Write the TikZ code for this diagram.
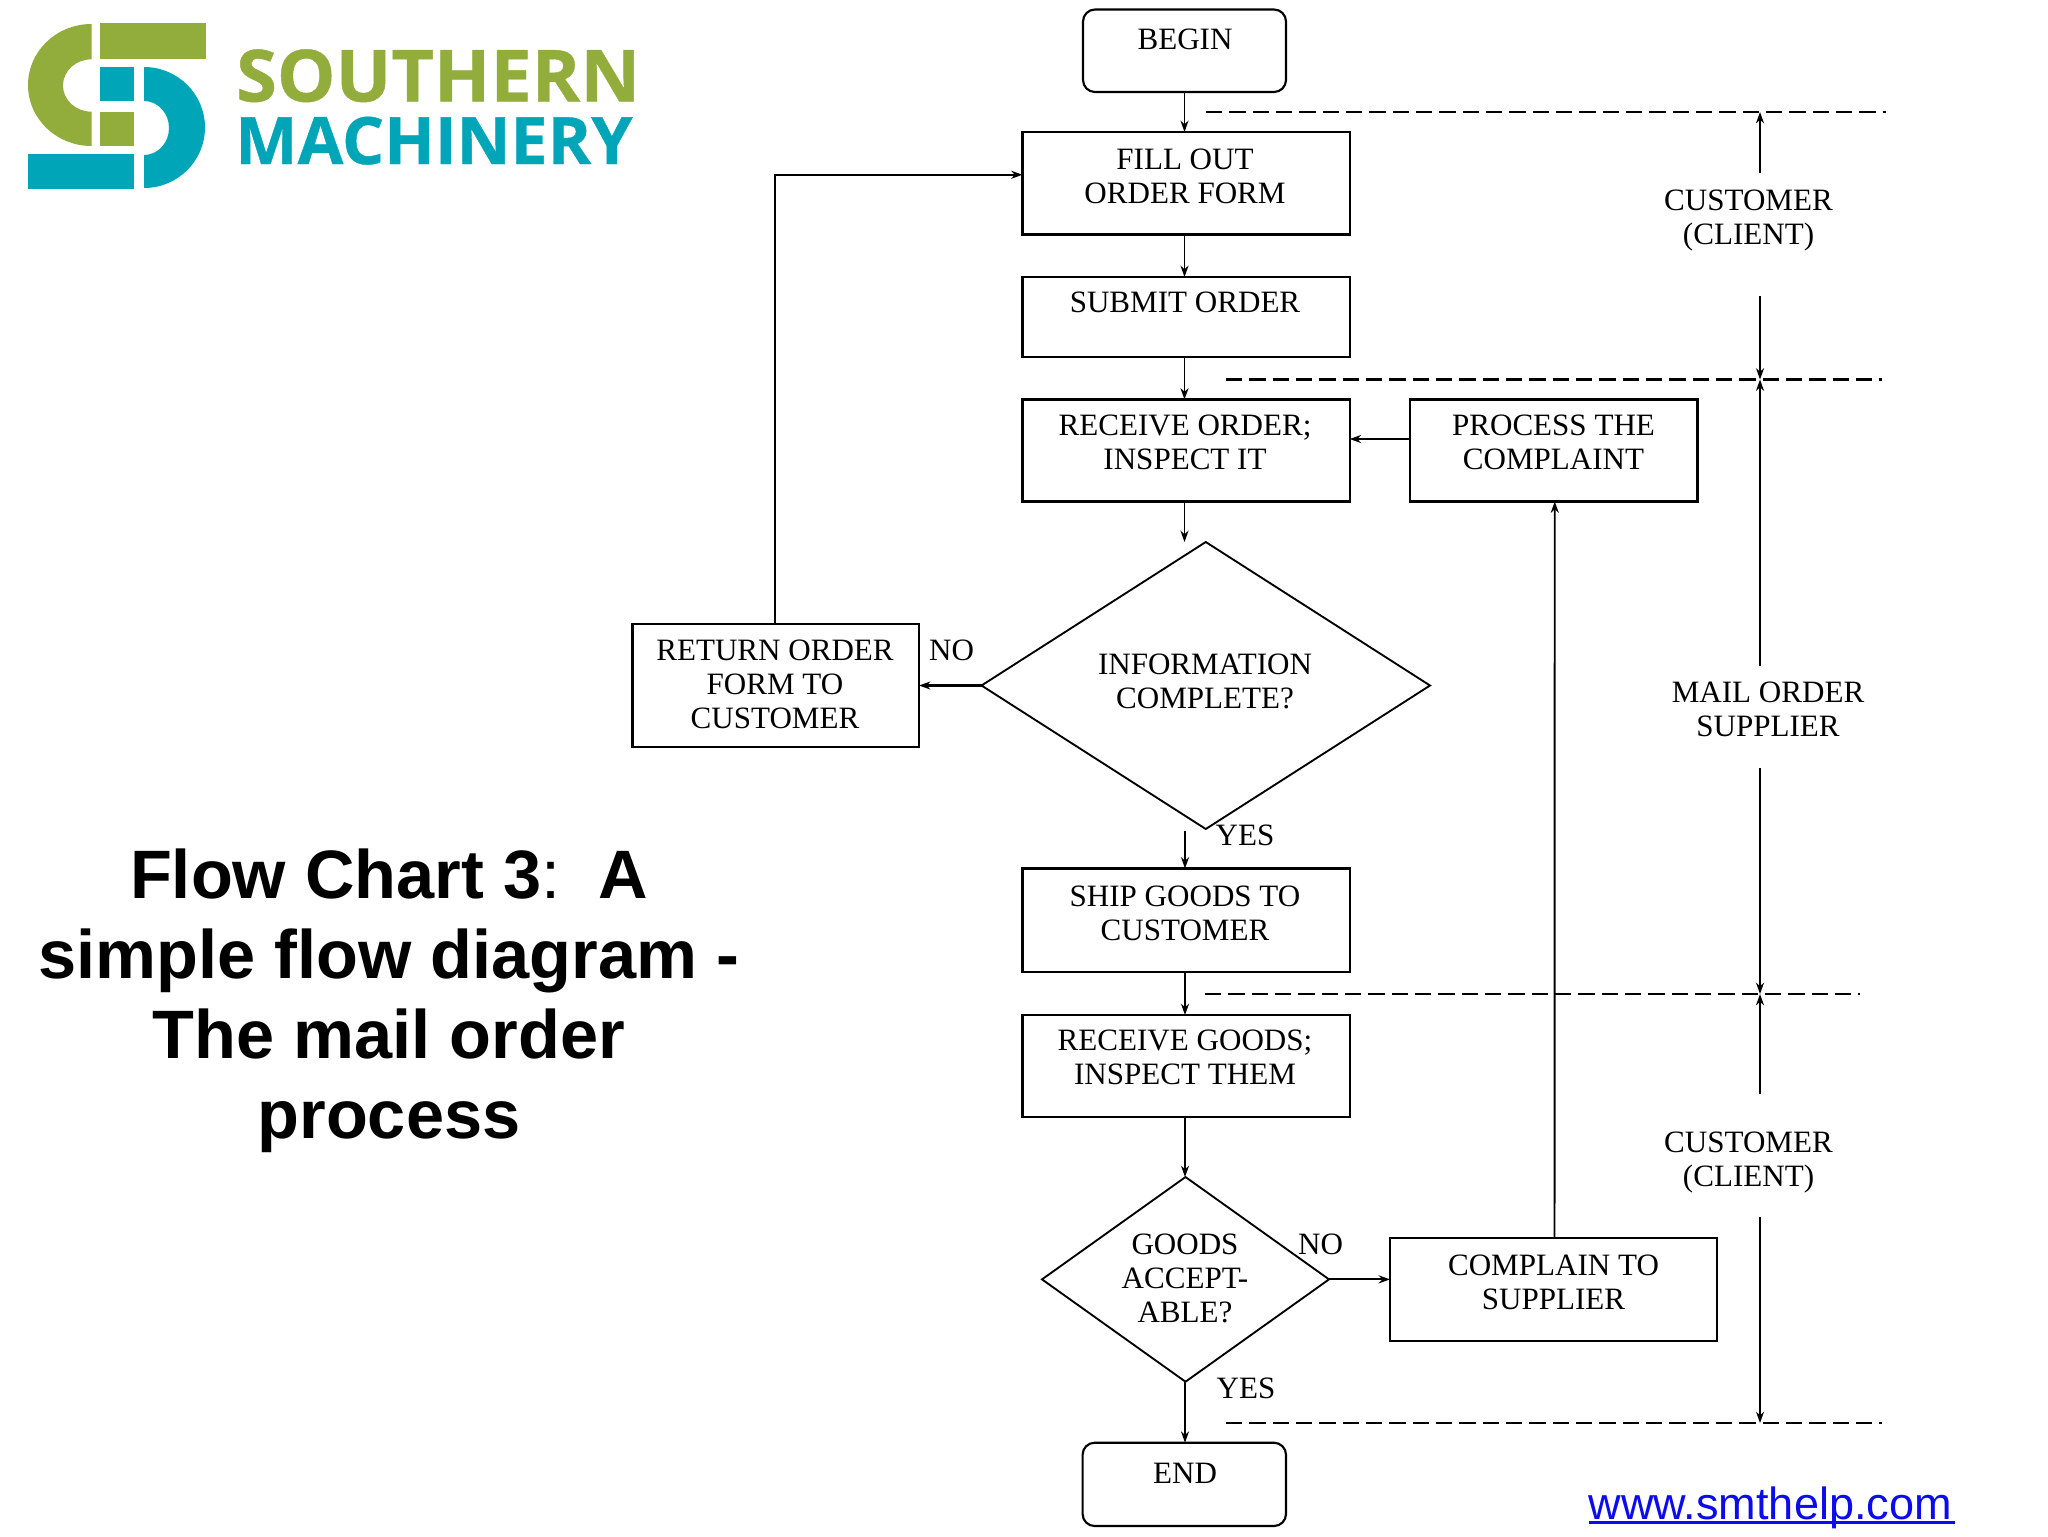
\documentclass[tikz,border=0pt]{standalone}
\usepackage{fontspec}
\usepackage{graphicx}
\usetikzlibrary{arrows.meta,shapes.geometric,calc}
\setmainfont{Liberation Serif}
\newfontfamily\arialf{Liberation Sans}
\newfontfamily\logof{Open Sans}[UprightFont=* Bold,FakeBold=0.6]
\definecolor{lgreen}{HTML}{93AD3C}
\definecolor{lteal}{HTML}{00A5B8}
\definecolor{urlblue}{HTML}{0B0BEE}
\newcommand{\bx}[6][]{% style, name, x0,y0,x1,y1
  \pgfmathsetmacro{\bw}{(#5-#3)*0.75}\pgfmathsetmacro{\bh}{(#6-#4)*0.75}
  \pgfmathsetmacro{\bcx}{(#3+#5)/2}\pgfmathsetmacro{\bcy}{(#4+#6)/2}
  \node[#1,minimum width=\bw pt,minimum height=\bh pt] (#2) at (\bcx,\bcy) {};}
\tikzset{
  box/.style={draw=black,line width=1.6pt,rectangle,inner sep=0pt,outer sep=0pt},
  term/.style={box,rounded corners=9pt},
  dec/.style={draw=black,line width=1.4pt,diamond,inner sep=0pt,outer sep=0pt},
  txt/.style={font=\fontsize{23.3pt}{25.5pt}\selectfont,align=center,inner sep=0pt,outer sep=0pt,yshift=5.1pt},
  arr/.style={line width=1.45pt,-{Stealth[length=8.5pt,width=6pt]}},
  sep/.style={line width=2.2pt,dash pattern=on 12.3pt off 5.2pt},
  ttl/.style={font=\fontsize{51.4pt}{60pt}\selectfont\arialf\bfseries,align=center,inner sep=0pt,outer sep=0pt,yshift=12pt},
}
\begin{document}
\begin{tikzpicture}[x=0.75pt,y=-0.75pt]
\useasboundingbox (0,0) rectangle (2048,1536);
% logo
\fill[lgreen] (91.5,24) arc[start angle=90,end angle=270,x radius=63.5,y radius=-61] -- (91.5,111.7) arc[start angle=270,end angle=90,x radius=28.5,y radius=-26.2] -- cycle;
\fill[lgreen] (100,23) rectangle (206,58.7);
\fill[lteal] (100,67) rectangle (134,101);
\fill[lgreen] (100,111.7) rectangle (134,145.7);
\fill[lteal] (144,67) arc[start angle=90,end angle=-90,x radius=61,y radius=-60.5] -- (144,155) arc[start angle=-90,end angle=90,x radius=25,y radius=-27] -- cycle;
\fill[lteal] (28,154) rectangle (134,189);
\node[anchor=base west,inner sep=0pt,text=lgreen,font=\fontsize{54pt}{60pt}\selectfont\logof] (lsouth) at (236,101.5) {\scalebox{1.024}[1]{SOUTHERN}};
\node[anchor=base west,inner sep=0pt,text=lteal,font=\fontsize{49pt}{60pt}\selectfont\logof] (lmach) at (235,164) {\scalebox{1.013}[1]{MACHINERY}};
% title
\node[ttl] (title) at (389,1018.5) {\strut Flow Chart 3{\mdseries :}\ \ A\\\strut simple flow diagram -\\\strut The mail order\\\strut process};
% url
\node[anchor=base west,inner sep=0pt,text=urlblue,font=\fontsize{33.8pt}{40pt}\selectfont\arialf] (url) at (1588.4,1519) {\rlap{\rule[-3.4pt]{274.5pt}{1.8pt}}www.smthelp.com};
% boxes
\bx[term]{begin}{1083}{9.5}{1286}{92}
\bx[box]{fill}{1022.5}{132}{1349.7}{234.5}
\bx[box]{submit}{1022.5}{277}{1349.7}{357}
\bx[box]{receive}{1022.5}{399.5}{1349.7}{501.5}
\bx[box]{process}{1410}{399.5}{1697.5}{501.5}
\bx[dec]{info}{981.5}{542}{1430}{829}
\bx[box]{return}{632.5}{624}{919}{746.7}
\bx[box]{ship}{1022.5}{868.5}{1349.7}{972}
\bx[box]{rgoods}{1022.5}{1015}{1349.7}{1117}
\bx[dec]{goods}{1042}{1177}{1329}{1381.7}
\bx[box]{complain}{1390}{1238}{1717}{1341}
\bx[term]{end}{1082.6}{1442.7}{1286}{1526}
% texts
\node[txt] (tbegin) at (1185,49) {\strut BEGIN};
\node[txt] (tfill) at (1185,186) {\strut FILL OUT\\\strut ORDER FORM};
\node[txt] (tsubmit) at (1185,312) {\strut SUBMIT ORDER};
\node[txt] (trec) at (1185,452) {\strut RECEIVE ORDER;\\\strut INSPECT IT};
\node[txt] (tproc) at (1553.5,452) {\strut PROCESS THE\\\strut COMPLAINT};
\node[txt] (tcust) at (1748.5,227) {\strut CUSTOMER\\\strut (CLIENT)};
\node[txt] (tret) at (775,694.3) {\strut RETURN ORDER\\\strut FORM TO\\\strut CUSTOMER};
\node[txt] (tno1) at (951.5,660.7) {\strut NO};
\node[txt] (tinfo) at (1205,691.3) {\strut INFORMATION\\\strut COMPLETE?};
\node[txt] (tyes1) at (1245,845) {\strut YES};
\node[txt] (tmail) at (1768,719) {\strut MAIL ORDER\\\strut SUPPLIER};
\node[txt] (tship) at (1185,923) {\strut SHIP GOODS TO\\\strut CUSTOMER};
\node[txt] (trg) at (1185,1067.5) {\strut RECEIVE GOODS;\\\strut INSPECT THEM};
\node[txt] (tcust2) at (1748.5,1169) {\strut CUSTOMER\\\strut (CLIENT)};
\node[txt] (tgoods) at (1185,1288) {\strut GOODS\\\strut ACCEPT-\\\strut ABLE?};
\node[txt] (tno2) at (1320.5,1254) {\strut NO};
\node[txt] (tcomp) at (1553.5,1292) {\strut COMPLAIN TO\\\strut SUPPLIER};
\node[txt] (tyes2) at (1246,1398.5) {\strut YES};
\node[txt] (tend) at (1185,1483.5) {\strut END};
% connectors
\draw[arr] (begin.south) -- (begin.south |- fill.north);
\draw[arr] (begin.south |- fill.south) -- (begin.south |- submit.north);
\draw[arr] (begin.south |- submit.south) -- (begin.south |- receive.north);
\draw[arr] (begin.south |- receive.south) -- (begin.south |- info.north);
\coordinate (shipfrom) at (1185,830.7);
\draw[arr] (shipfrom) -- (shipfrom |- ship.north);
\draw[arr] (shipfrom |- ship.south) -- (shipfrom |- rgoods.north);
\draw[arr] (shipfrom |- rgoods.south) -- (shipfrom |- goods.north);
\draw[arr] (shipfrom |- goods.south) -- (shipfrom |- end.north);
\draw[arr,line width=1.6pt] (info.west) -- (info.west -| return.east);
\draw[arr] ($(return.north)+(-1,0)$) |- ($(fill.west)+(0,-8.5)$);
\draw[arr,line width=1.6pt] ($(process.west)+(0,-11.5)$) -- ($(receive.east)+(0,-11.5)$);
\draw[arr,line width=1.6pt] (goods.east) -- (goods.east -| complain.west);
\draw[arr] ($(complain.north)+(1,0)$) -- ($(process.south)+(1,0)$);
% separators
\coordinate (s1a) at (1206,112); \coordinate (s1b) at (1886,112);
\coordinate (s2a) at (1226,379.5); \coordinate (s2b) at (1882,379.5);
\coordinate (s3a) at (1205,994); \coordinate (s3b) at (1860,994);
\coordinate (s4a) at (1226,1423); \coordinate (s4b) at (1882,1423);
\draw[sep] (s1a) -- (s1b);
\draw[sep] (s2a) -- (s2b);
\draw[sep] (s3a) -- (s3b);
\draw[sep] (s4a) -- (s4b);
% extent arrows
\coordinate (e1) at (1760,173); \coordinate (e1t) at (1760,112);
\coordinate (e2) at (1760,296); \coordinate (e2t) at (1760,379.5);
\coordinate (e3) at (1760,666); \coordinate (e4) at (1760,768); \coordinate (e4t) at (1760,994);
\coordinate (e5) at (1760,1094); \coordinate (e6) at (1760,1217); \coordinate (e6t) at (1760,1423);
\draw[arr] (e1) -- (e1t);
\draw[arr] (e2) -- (e2t);
\draw[arr] (e3) -- (e2t);
\draw[arr] (e4) -- (e4t);
\draw[arr] (e5) -- (e4t);
\draw[arr] (e6) -- (e6t);
\end{tikzpicture}
\end{document}
